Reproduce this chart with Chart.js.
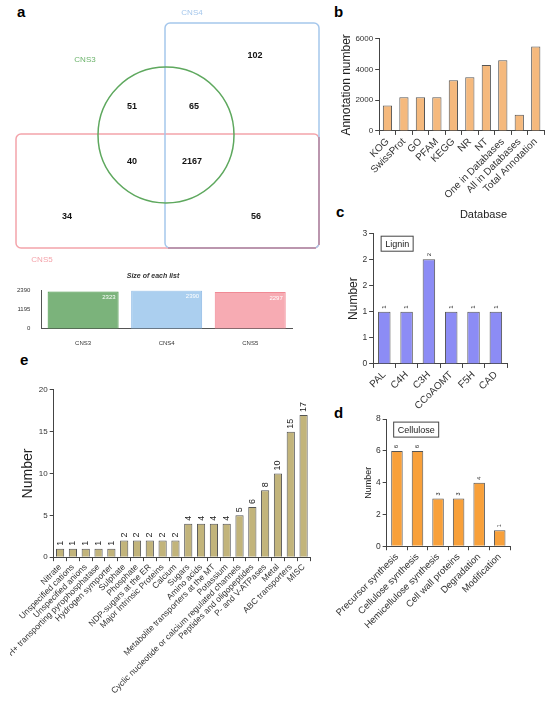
<!DOCTYPE html>
<html><head><meta charset="utf-8">
<script src="https://cdn.jsdelivr.net/npm/chart.js@4"></script>
<style>
body{margin:0;width:550px;height:711px;background:#fff;position:relative;font-family:Arial,"Liberation Sans",sans-serif;overflow:hidden}
.p{position:absolute}
.lab{position:absolute;font-weight:bold;font-size:15px}
</style></head><body>
<div class="lab" style="left:17px;top:3px">a</div>
<div class="lab" style="left:334px;top:3px">b</div>
<div class="lab" style="left:336px;top:203px">c</div>
<div class="lab" style="left:334px;top:404px">d</div>
<div class="lab" style="left:20px;top:351px">e</div>
<div class="p" style="left:0;top:0;width:330px;height:270px"><canvas id="venn"></canvas></div>
<div class="p" style="left:14px;top:270px;width:290px;height:80px"><canvas id="size"></canvas></div>
<div class="p" style="left:335px;top:32px;width:215px;height:170px"><canvas id="cb"></canvas></div>
<div class="p" style="left:340px;top:208px;width:175px;height:205px"><canvas id="cc"></canvas></div>
<div class="p" style="left:335px;top:412px;width:180px;height:220px"><canvas id="cd"></canvas></div>
<div class="p" style="left:10px;top:383px;width:305px;height:314px"><canvas id="ce"></canvas></div>
<script>
// Venn counts
const vennLabels=["CNS4 only","CNS3 only","CNS3∩CNS4","CNS3∩CNS5","All","CNS5 only","CNS4∩CNS5"];
const vennCounts=[102,51,65,40,2167,34,56];
// Size of each list
const listNames=["CNS3","CNS4","CNS5"];
const listSizes=[2323,2390,2297];
// b
const dbCats=["KOG","SwissProt","GO","PFAM","KEGG","NR","NT","One in Databases","All in Databases","Total Annotation"];
const dbVals=[1650,2200,2200,2200,3300,3500,4300,4600,1050,5500];
// c
const ligCats=["PAL","C4H","C3H","CCoAOMT","F5H","CAD"];
const ligVals=[1,1,2,1,1,1];
// d
const celCats=["Precursor synthesis","Cellulose synthesis","Hemicellulose synthesis","Cell wall proteins","Degradation","Modification"];
const celVals=[6,6,3,3,4,1];
// e
const trCats=["Nitrate","Unspecified cations","Unspecified anions","H+ transporting pyrophosphatase","Hydrogen symporter","Sulphate","Phosphate","NDP-sugars at the ER","Major Intrinsic Proteins","Calcium","Sugars","Amino acids","Metabolite transporters at the MT","Potassium","Cyclic nucleotide or calcium regulated channels","Peptides and oligopeptides","P- and V-ATPases","Metal","ABC transporters","MISC"];
const trVals=[1,1,1,1,1,2,2,2,2,2,4,4,4,4,5,6,8,10,15,17];

Chart.defaults.font.family='Arial, "Liberation Sans", sans-serif';
Chart.defaults.color='#333';
Chart.defaults.animation=false;
Chart.defaults.plugins.legend.display=false;
Chart.defaults.plugins.tooltip.enabled=false;
Chart.defaults.maintainAspectRatio=false;

const vennPos=[[255,56],[132,107],[194,107],[132,162],[192,162],[67,217],[256,217]];
new Chart(document.getElementById('venn'),{type:'scatter',
 data:{datasets:[{data:vennPos.map(p=>({x:p[0],y:p[1]})),pointRadius:0}]},
 options:{layout:{padding:0},scales:{x:{display:false,min:0,max:330},y:{display:false,min:0,max:270,reverse:true}}},
 plugins:[{id:'v',afterDatasetsDraw(ch){
  const c=ch.ctx,x=ch.scales.x,y=ch.scales.y,X=v=>x.getPixelForValue(v),Y=v=>y.getPixelForValue(v);
  c.save();c.lineWidth=1.5;
  c.strokeStyle='#f4a4ab';
  c.beginPath();c.roundRect(X(16),Y(134),X(319)-X(16),Y(248)-Y(134),5);c.stroke();
  c.strokeStyle='#a5c7ec';
  c.beginPath();c.roundRect(X(165),Y(23),X(319)-X(165),Y(248)-Y(23),5);c.stroke();
  c.strokeStyle='rgba(190,120,140,0.8)';c.beginPath();c.moveTo(X(168),Y(248));c.lineTo(X(316),Y(248));c.moveTo(X(319),Y(137));c.lineTo(X(319),Y(245));c.stroke();
  c.strokeStyle='#5ea85e';c.beginPath();c.arc(X(166),Y(135),X(234)-X(166),0,Math.PI*2);c.stroke();
  c.font='bold 9px Arial';c.fillStyle='#111';c.textAlign='center';c.textBaseline='middle';
  ch.getDatasetMeta(0).data.forEach((pt,i)=>c.fillText(vennCounts[i],pt.x,pt.y));
  c.font='8px Arial';
  c.fillStyle='#a5c7ec';c.fillText('CNS4',X(192),Y(13));
  c.fillStyle='#6db46d';c.fillText('CNS3',X(85),Y(60));
  c.fillStyle='#f4a4ab';c.fillText('CNS5',X(42),Y(260));
  c.restore();}}]});

new Chart(document.getElementById('size'),{type:'bar',
 data:{labels:listNames,datasets:[{data:listSizes,backgroundColor:['rgba(90,160,90,0.8)','rgba(150,195,235,0.8)','rgba(245,150,160,0.8)'],borderColor:['#4c9a4c','#8fbbe6','#f08a95'],borderWidth:1,categoryPercentage:1,barPercentage:0.85}]},
 options:{layout:{padding:{right:12}},plugins:{title:{display:true,text:'Size of each list',font:{size:7,style:'italic'},padding:{top:2,bottom:10}}},
  scales:{x:{grid:{display:false},border:{color:'#555'},ticks:{font:{size:6},color:'#333'}},
   y:{min:0,max:2390,afterBuildTicks(a){a.ticks=[{value:0},{value:1195},{value:2390}]},grid:{display:false},border:{color:'#555'},ticks:{font:{size:6},color:'#333',callback:v=>v}}}},
 plugins:[{id:'t',afterDatasetsDraw(ch){const c=ch.ctx;c.save();c.font='6px Arial';c.fillStyle='#fff';c.textAlign='right';
  ch.getDatasetMeta(0).data.forEach((b,i)=>c.fillText(listSizes[i],b.x+b.width/2-3,b.y+8));c.restore();}}]});

function topLabels(vals,size){return {id:'tl',afterDatasetsDraw(ch){const c=ch.ctx;c.save();c.font=size+'px Arial';c.fillStyle='#222';
 ch.getDatasetMeta(0).data.forEach((b,i)=>{c.save();c.translate(b.x,b.y-3);c.rotate(-Math.PI/2);c.textAlign='left';c.textBaseline='middle';c.fillText(vals[i],0,0);c.restore();});c.restore();}}}
function boxLabel(text,dx){return {id:'bx',afterDraw(ch){const c=ch.ctx,a=ch.chartArea;c.save();c.font='9px Arial';const w=c.measureText(text).width+8;
 c.strokeStyle='#444';c.lineWidth=1;c.strokeRect(a.left+dx,a.top+3,w,15);c.fillStyle='#222';c.textBaseline='middle';c.fillText(text,a.left+dx+4,a.top+11);c.restore();}}}
const G={display:true,drawOnChartArea:false,drawTicks:true,tickLength:4,color:'#444'};
const xax=(fs)=>({grid:G,border:{color:'#444'},ticks:{color:'#333',font:{size:fs},maxRotation:45,minRotation:45,autoSkip:false,padding:1}});
const yax=(max,step,fs,title,tfs,cb)=>({min:0,max:max,grid:G,border:{color:'#444'},ticks:Object.assign({stepSize:step,color:'#333',font:{size:fs},padding:2},cb?{callback:cb}:{}),title:{display:true,text:title,font:{size:tfs},color:'#222',padding:0}});

new Chart(document.getElementById('cb'),{type:'bar',
 data:{labels:dbCats,datasets:[{data:dbVals,backgroundColor:'#f5b97d',borderColor:'#555',borderWidth:1,barPercentage:0.7}]},
 options:{layout:{padding:{top:2,right:6,left:4}},scales:{x:xax(10),y:yax(6000,2000,8,'Annotation number',12,v=>v)}}});

new Chart(document.getElementById('cc'),{type:'bar',
 data:{labels:ligCats,datasets:[{data:ligVals,backgroundColor:'#8c8cf5',borderColor:'#555',borderWidth:1,barPercentage:0.7}]},
 options:{layout:{padding:{top:0,right:8,left:6}},plugins:{title:{display:true,text:'Database',font:{size:11,weight:'normal'},color:'#222',align:'end',padding:{top:0,bottom:12}}},
  scales:{x:xax(10),y:yax(2.5,0.5,8.5,'Number',12,v=>Math.round(v))}},
 plugins:[topLabels(ligVals,6),boxLabel('Lignin',8)]});

new Chart(document.getElementById('cd'),{type:'bar',
 data:{labels:celCats,datasets:[{data:celVals,backgroundColor:'#f8a03a',borderColor:'#555',borderWidth:1,barPercentage:0.7}]},
 options:{layout:{padding:{top:3,right:5}},scales:{x:xax(9.5),y:yax(8,2,8.5,'Number',9,null)}},
 plugins:[topLabels(celVals,5.5),boxLabel('Cellulose',7)]});

new Chart(document.getElementById('ce'),{type:'bar',
 data:{labels:trCats,datasets:[{data:trVals,backgroundColor:'#c2b47b',borderColor:'#555',borderWidth:1,barPercentage:0.8}]},
 options:{layout:{padding:{top:6,right:5,left:10}},scales:{x:xax(8.5),y:yax(20,5,8,'Number',14,null)}},
 plugins:[topLabels(trVals,9)]});
</script></body></html>
